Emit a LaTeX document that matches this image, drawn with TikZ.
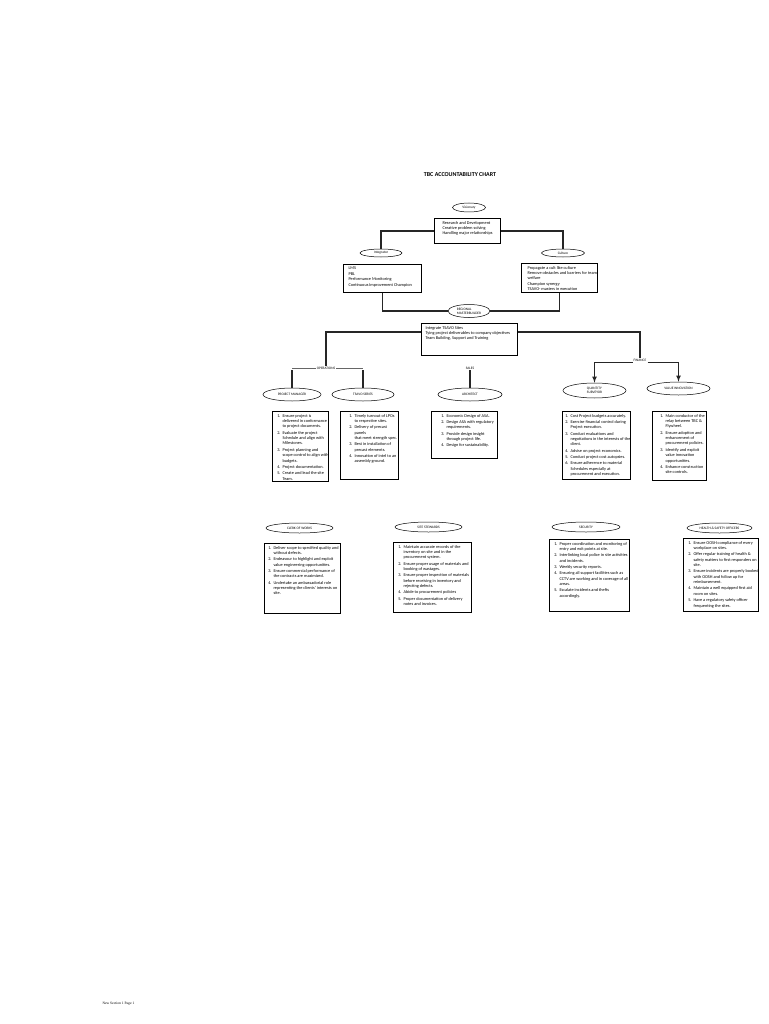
\documentclass[tikz,border=0pt]{standalone}
\usepackage{fontspec}
\setmainfont{Carlito}
\newfontfamily\footfont{Liberation Serif}
\usepackage{tikz}
\usetikzlibrary{shapes.geometric}

\newcommand{\bodyfont}{\fontsize{4.3}{5.4}\selectfont}
\newcommand{\rolefont}{\fontsize{3.5}{4}\selectfont}
% top aligned text inside a fixed box
\newcommand{\inbox}[3]{\parbox[t][#2][t]{#1}{\vspace*{2.5pt}\raggedright #3}}
\newenvironment{duties}[2]{\begin{list}{\arabic{enumi}.}{\usecounter{enumi}%
  \setlength{\leftmargin}{#1}\setlength{\labelwidth}{5pt}\setlength{\labelsep}{2pt}%
  \setlength{\rightmargin}{#2}\setlength{\itemsep}{0.9pt}\setlength{\parsep}{0pt}%
  \setlength{\topsep}{0pt}\setlength{\partopsep}{0pt}}\raggedright}{\end{list}}

\begin{document}
\begin{tikzpicture}[x=1pt,y=-1pt,
  duty/.style={draw,line width=1.1pt,inner sep=0pt,anchor=north west,font=\bodyfont},
  role/.style={ellipse,draw,line width=0.5pt,inner sep=0pt,font=\rolefont},
  conn/.style={line width=1.1pt,black!85},
  unit/.style={font=\rolefont,inner sep=1pt}]
\useasboundingbox (0,0) rectangle (768,1024) ;
\node[font=\bfseries\fontsize{6}{7}\selectfont] (title) at (460,175) {TBC ACCOUNTABILITY CHART} ;

% top of the chart
\node[role,minimum width=33pt,minimum height=9pt] (vis) at (469,207.5) {Visionary} ;
\node[duty] (resbox) at (434,218) {\inbox{66pt}{25pt}{\leftskip=8pt Research and Development\\Creative problem solving\\Handling major relationships}} ;
\node[role,minimum width=42pt,minimum height=8pt] (integ) at (381,253) {Integrator} ;
\node[role,minimum width=43pt,minimum height=8pt] (cult) at (563,253) {Culture} ;
\node[duty] (intbox) at (343,264) {\inbox{78pt}{28pt}{\leftskip=5pt LMS\\PBL\\Performance Monitoring\\Continuous Improvement Champion}} ;
\node[duty] (cultbox) at (521,263) {\inbox{76pt}{29pt}{\leftskip=6pt\rightskip=0pt plus 2em Propagate a cult like culture\\Remove obstacles and barriers for team welfare\\Champion synergy\\TSAVO- masters in execution}} ;
\node[role,minimum width=42pt,minimum height=13pt,align=left] (rmb) at (469,311) {REGIONAL\\MASTERBUILDER} ;
\node[duty] (teambox) at (421,323) {\inbox{96pt}{32pt}{\leftskip=4pt Integrate TSAVO Sites\\Tying project deliverables to company objectives\\Team Building, Support and Training}} ;

\draw[conn] (resbox.west) -| (integ.north) ;
\draw[conn] (resbox.east) -| (cult.north) ;
\draw[conn] (intbox.south) |- (rmb.west) ;
\draw[conn] (cultbox.south) |- (rmb.east) ;

% departments
\node[unit] (ops) at (326,368) {OPERATIONS} ;
\node[unit] (sales) at (470,368) {SALES} ;
\node[unit] (fin) at (640,360) {FINANCE} ;
\draw[conn] ([yshift=-9pt]teambox.north west) -| (ops.north) ;
\draw[conn] ([yshift=-9pt]teambox.north east) -| (fin.north) ;

\node[role,minimum width=58pt,minimum height=13pt] (pm) at (292,394.5) {PROJECT MANAGER} ;
\node[role,minimum width=62pt,minimum height=13pt] (ts) at (363,394.5) {TSAVO SERIES} ;
\node[role,minimum width=64pt,minimum height=13pt] (arch) at (470,394.5) {ARCHITECT} ;
\node[role,minimum width=63pt,minimum height=15pt,align=left] (qs) at (594.5,390.5) {QUANTITY\\SURVEYOR} ;
\node[role,minimum width=63pt,minimum height=13pt] (vi) at (678.5,388.5) {VALUE INNOVATION} ;

\draw[thin,black!60] (ops.west) -- (ops.west -| pm.north) ;
\draw[thin,black!60] (ops.east) -- (ops.east -| ts.north) ;
\draw[conn] (ops.south -| pm.north) -- (pm.north) ;
\draw[conn] (ops.south -| ts.north) -- (ts.north) ;
\draw[conn] (sales.south) -- (arch.north) ;
\draw[conn,>=latex,->] (fin.south west) -| (qs.north) ;
\draw[conn,>=latex,->] (fin.south east) -| (vi.north) ;

\node[duty] (pmbox) at (272,411) {\inbox{60pt}{70pt}{\begin{duties}{10pt}{4pt}
  \item Ensure project is\\ delivered in conformance to project documents.
  \item Evaluate the project Schedule and align with Milestones.
  \item Project planning and scope control to align with budgets.
  \item Project documentation.
  \item Create and lead the site Team.
  \end{duties}}} ;
\node[duty] (tsbox) at (340,411) {\inbox{59pt}{68pt}{\begin{duties}{14pt}{1pt}
  \item Timely turnout of LPOs\\ to respective sites.
  \item Delivery of precast panels\\ that meet strength spec.
  \item Best in installation of precast elements.
  \item Innovation of intel to an assembly ground.
  \end{duties}}} ;
\node[duty] (archbox) at (431,411) {\inbox{69pt}{47pt}{\begin{duties}{15pt}{3pt}
  \item Economic Design of ASA.
  \item Design ASA with regulatory requirements.
  \item Provide design insight through project life.
  \item Design for sustainability.
  \end{duties}}} ;
\node[duty] (qsbox) at (562,411) {\inbox{70pt}{68pt}{\begin{duties}{8pt}{2pt}
  \item Cost Project budgets accurately.
  \item Exercise financial control during Project execution.
  \item Conduct evaluations and negotiations in the interests of the client.
  \item Advise on project economics.
  \item Conduct project cost autopsies.
  \item Ensure adherence to material Schedules especially at procurement and execution.
  \end{duties}}} ;
\node[duty] (vibox) at (652,411) {\inbox{54pt}{69pt}{\begin{duties}{13pt}{0pt}
  \item Main conductor of the relay between TBC \& Flywheel.
  \item Ensure adoption and enhancement of procurement policies.
  \item Identify and exploit value innovation opportunities.
  \item Enhance construction site controls.
  \end{duties}}} ;

% site roles
\node[role,minimum width=67pt,minimum height=10pt] (cow) at (299.5,528) {CLERK OF WORKS} ;
\node[role,minimum width=67pt,minimum height=10pt] (ss) at (428.5,527) {SITE STEWARDS} ;
\node[role,minimum width=68pt,minimum height=10pt] (sec) at (586,527) {SECURITY} ;
\node[role,minimum width=65pt,minimum height=10pt] (hs) at (719.5,528) {HEALTH \& SAFETY OFFICERS} ;

\node[duty] (cowbox) at (264,543) {\inbox{82pt}{70pt}{\begin{duties}{9pt}{6pt}
  \item Deliver scope to specified quality and without defects.
  \item Endeavour to highlight and exploit value engineering opportunities.
  \item Ensure commercial performance of the contracts are maximized.
  \item Undertake an ambassadorial role representing the clients' interests on site.
  \end{duties}}} ;
\node[duty] (ssbox) at (393,542) {\inbox{81pt}{70pt}{\begin{duties}{10pt}{3pt}
  \item Maintain accurate records of the inventory on site and in the procurement system.
  \item Ensure proper usage of materials and booking of wastages.
  \item Ensure proper inspection of materials before receiving in inventory and rejecting defects.
  \item Abide to procurement policies
  \item Proper documentation of delivery notes and invoices.
  \end{duties}}} ;
\node[duty] (secbox) at (549,539) {\inbox{83pt}{72pt}{\begin{duties}{10pt}{3pt}
  \item Proper coordination and monitoring of entry and exit points at site.
  \item Interlinking local police in site activities and incidents.
  \item Weekly security reports.
  \item Ensuring all support facilities such as CCTV are working and in coverage of all areas.
  \item Escalate incidents and thefts accordingly.
  \end{duties}}} ;
\node[duty] (hsbox) at (683,538) {\inbox{78pt}{73pt}{\begin{duties}{10pt}{3pt}
  \item Ensure OOSH compliance of every workplace on sites.
  \item Offer regular training of health \& safety matters to first responders on site.
  \item Ensure incidents are properly booked with OOSH and follow up for reimbursement.
  \item Maintain a well equipped first aid room on sites.
  \item Have a regulatory safety officer frequenting the sites.
  \end{duties}}} ;

\node[anchor=west,font=\footfont\fontsize{3.6}{4}\selectfont] (foot) at (99,1004) {New Section 1 Page 1} ;
\end{tikzpicture}
\end{document}
